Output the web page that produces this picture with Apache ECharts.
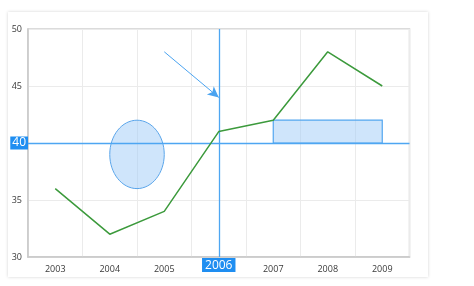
<!DOCTYPE html>
<html><head><meta charset="utf-8">
<script src="https://cdn.jsdelivr.net/npm/echarts@6/dist/echarts.min.js"></script>
<style>
html,body{margin:0;padding:0;background:#fff;}
#card{position:absolute;left:8px;top:12px;width:420px;height:265px;background:#fff;box-shadow:0 0 3px rgba(0,0,0,0.18);}
#main{position:absolute;left:0;top:0;width:474px;height:286px;}
</style></head>
<body>
<div id="card"></div>
<div id="main"></div>
<script>
const categories = ['2003','2004','2005','2006','2007','2008','2009'];
const values = [36, 32, 34, 41, 42, 48, 45];
const yTicks = [30, 35, 40, 45, 50];
const crosshairX = '2006';
const crosshairY = 40;
const ellipseBox = [['2004', 42], ['2005', 36]];
const rectBox = [['2007', 42], ['2009', 40]];
const arrowLine = [['2005', 48], ['2006', 44]];

const chart = echarts.init(document.getElementById('main'));
const blue = '#4ea6f2';
const tagBg = '#1f8ef1';
chart.setOption({
  animation: false,
  textStyle: {fontFamily: 'Open Sans'},
  grid: {left: 28, top: 29, right: 64.5, bottom: 29, show: true, borderColor: '#cfcfcf', borderWidth: 1.5},
  xAxis: {
    type: 'category', data: categories, boundaryGap: true,
    axisLine: {lineStyle: {color: '#c8c8c8', width: 1.5}},
    axisTick: {show: false},
    axisLabel: {color: '#3a3a3a', fontSize: 9, margin: 8},
    splitLine: {show: true, lineStyle: {color: '#ebebeb'}}
  },
  yAxis: {
    type: 'value', min: yTicks[0], max: yTicks[yTicks.length - 1], interval: 5,
    axisLine: {show: true, lineStyle: {color: '#c8c8c8', width: 1.5}},
    axisTick: {show: false},
    axisLabel: {color: '#3a3a3a', fontSize: 9, margin: 6},
    splitLine: {show: true, lineStyle: {color: '#ebebeb'}}
  },
  series: [
    {
      type: 'line', data: values, showSymbol: false, symbol: 'none',
      lineStyle: {color: '#3c9a3c', width: 1.5},
      z: 5,
      markArea: {
        silent: true,
        itemStyle: {color: 'rgba(160,204,248,0.5)', borderColor: '#52a6f0', borderWidth: 1.2},
        data: [[{coord: rectBox[0]}, {coord: rectBox[1]}]]
      },
      markLine: {
        silent: true,
        symbol: ['none', 'none'],
        symbolSize: [8, 11],
        lineStyle: {color: '#4aa3f0', width: 1, type: 'solid'},
        label: {show: false},
        data: [
          [{coord: arrowLine[0], symbol: 'none'}, {coord: arrowLine[1], symbol: 'arrow'}]
        ]
      }
    },
    {
      type: 'line', data: [], z: 6,
      markLine: {
        silent: true,
        symbol: ['none', 'none'],
        lineStyle: {color: blue, width: 1.3, type: 'solid', opacity: 1},
        emphasis: {disabled: true},
        data: [
          {
            xAxis: crosshairX,
            label: {show: true, position: 'start', formatter: crosshairX, distance: 1,
              backgroundColor: tagBg, color: '#fff', fontSize: 12, padding: [2, 3, 0, 3]}
          },
          {
            yAxis: crosshairY,
            label: {show: true, position: 'start', formatter: String(crosshairY), distance: 0,
              backgroundColor: tagBg, color: '#fff', fontSize: 12, padding: [1, 2, 0, 2]}
          }
        ]
      }
    },
    {
      type: 'custom', z: 3,
      data: [[categories.indexOf(ellipseBox[0][0]), ellipseBox[0][1], categories.indexOf(ellipseBox[1][0]), ellipseBox[1][1]]],
      encode: {x: [0, 2], y: [1, 3]},
      renderItem: function (params, api) {
        const p1 = api.coord([api.value(0), api.value(1)]);
        const p2 = api.coord([api.value(2), api.value(3)]);
        return {
          type: 'ellipse',
          shape: {cx: (p1[0] + p2[0]) / 2, cy: (p1[1] + p2[1]) / 2, rx: Math.abs(p2[0] - p1[0]) / 2, ry: Math.abs(p2[1] - p1[1]) / 2},
          style: {fill: 'rgba(160,204,248,0.5)', stroke: '#5aa5ea', lineWidth: 1}
        };
      }
    }
  ]
});
</script>
</body></html>
